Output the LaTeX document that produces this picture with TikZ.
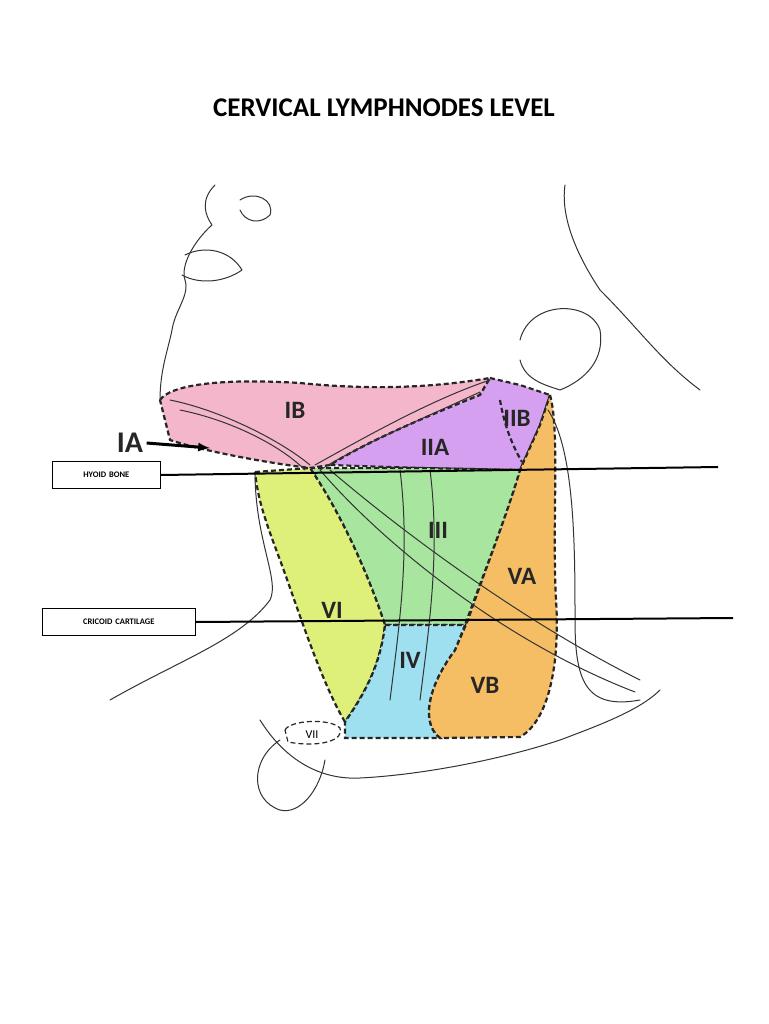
\documentclass[tikz,border=0pt]{standalone}
\usepackage{fontspec}
\setmainfont{Carlito}
\begin{document}
\begin{tikzpicture}[x=1pt,y=-1pt,
  region/.style={draw=black!85,line width=2.2pt,dash pattern=on 5pt off 3pt},
  sketch/.style={draw=black!80,line width=1pt,line cap=round,line join=round},
  lvl/.style={font=\bfseries\fontsize{25}{27}\selectfont,text=black!85},
  tag/.style={draw,line width=0.6pt,fill=white,font=\bfseries\fontsize{8.5}{9}\selectfont,inner sep=3pt,minimum height=27pt,anchor=west,align=center,text width=#1,inner xsep=6pt}]
\useasboundingbox (0,0) rectangle (768,1024);
\fill[white] (0,0) rectangle (768,1024);
\node (title) at (384,108) {\bfseries\fontsize{27}{30}\selectfont CERVICAL LYMPHNODES LEVEL};
% regions
\path[fill={rgb,255:red,243;green,182;blue,203}, region] (160,400) .. controls (170,385) and (220,378) .. (300,383) .. controls (370,390) and (430,388) .. (490,378) -- (480,395) .. controls (420,420) and (370,440) .. (330,465) -- (310,468) .. controls (260,462) and (200,450) .. (170,440) -- cycle;
\path[fill={rgb,255:red,214;green,160;blue,240}, region] (490,378) -- (520,385) -- (550,395) -- (540,425) -- (520,470) -- (420,468) -- (330,465) .. controls (370,440) and (430,415) .. (480,395) -- cycle;
\path[fill={rgb,255:red,246;green,190;blue,100}, region] (550,395) .. controls (560,430) and (552,520) .. (556,600) .. controls (560,660) and (550,720) .. (520,737) -- (440,738) .. controls (422,725) and (425,690) .. (455,650) -- (468,620) .. controls (485,570) and (505,520) .. (520,470) -- (540,425) -- cycle;
\path[fill={rgb,255:red,168;green,230;blue,160}, region] (310,468) -- (420,468) -- (520,470) .. controls (505,520) and (485,570) .. (465,625) -- (385,625) .. controls (370,580) and (345,520) .. (310,468);
\path[fill={rgb,255:red,222;green,240;blue,122}, region] (255,472) -- (310,468) .. controls (345,520) and (370,580) .. (385,625) .. controls (380,670) and (360,700) .. (345,722) .. controls (320,680) and (295,600) .. (280,560) .. controls (265,520) and (258,500) .. (255,472);
\path[fill={rgb,255:red,158;green,224;blue,240}, region] (385,625) -- (465,625) -- (455,650) .. controls (425,690) and (422,725) .. (440,738) -- (345,738) -- (345,722) .. controls (360,700) and (380,670) .. (385,625);
\draw[region] (500,400) .. controls (505,430) and (515,450) .. (522,462);
% sketch outlines
\draw[sketch] (215,185) .. controls (200,200) and (205,215) .. (212,225) .. controls (195,240) and (180,265) .. (185,280) .. controls (190,295) and (175,310) .. (172,330) .. controls (168,350) and (160,370) .. (160,400);
\draw[sketch] (240,200) .. controls (255,190) and (275,200) .. (270,215) .. controls (260,225) and (245,222) .. (240,210);
\draw[sketch] (185,255) .. controls (205,245) and (230,250) .. (242,270) .. controls (225,282) and (200,285) .. (182,275);
\draw[sketch] (565,185) .. controls (560,220) and (580,260) .. (600,290) .. controls (640,330) and (660,360) .. (700,390);
\draw[sketch] (520,340) .. controls (530,300) and (590,300) .. (600,330) .. controls (605,360) and (585,380) .. (560,390) .. controls (545,385) and (525,380) .. (520,360);
\draw[sketch] (548,410) .. controls (575,450) and (575,550) .. (575,620) .. controls (575,680) and (585,710) .. (640,700);
\draw[sketch] (490,380) .. controls (430,400) and (360,440) .. (315,465);
\draw[sketch] (480,392) .. controls (420,420) and (360,445) .. (320,470);
\draw[sketch] (170,400) .. controls (220,410) and (280,440) .. (310,465);
\draw[sketch] (180,410) .. controls (230,420) and (280,445) .. (305,470);
\draw[sketch] (320,470) .. controls (380,540) and (500,640) .. (635,692);
\draw[sketch] (330,470) .. controls (400,530) and (520,620) .. (640,680);
\draw[sketch] (255,472) .. controls (255,540) and (280,580) .. (270,600) .. controls (240,640) and (180,660) .. (110,700);
\draw[sketch] (260,720) .. controls (285,760) and (320,780) .. (360,778) .. controls (420,775) and (500,760) .. (560,740) .. controls (600,725) and (640,710) .. (660,690);
\draw[sketch] (280,740) .. controls (250,760) and (250,800) .. (280,810) .. controls (300,815) and (320,790) .. (325,760);
\draw[sketch] (400,470) .. controls (410,550) and (400,620) .. (390,700);
\draw[sketch] (430,470) .. controls (440,550) and (430,620) .. (420,700);
% VII
\draw[region,line width=1.2pt] (285,730) .. controls (290,720) and (330,718) .. (340,728) .. controls (345,740) and (320,748) .. (288,742) -- cycle;
\node[font=\fontsize{12}{13}\selectfont] (vii) at (312,735) {VII};
% lines and tags
\node[tag=96pt] (hyoid) at (52,475) {HYOID BONE};
\node[tag=141pt] (cricoid) at (42,622) {CRICOID CARTILAGE};
\coordinate (hend) at (718,467);
\coordinate (cend) at (733,618);
\draw[line width=2pt] (hyoid.east) -- (hend);
\draw[line width=2pt] (cricoid.east) -- (cend);
% labels
\node[lvl,font=\bfseries\fontsize{30}{32}\selectfont] (ia) at (130,443) {IA};
\coordinate (iatip) at (210,448);
\draw[line width=3pt,-latex] (ia.east) -- (iatip);
\node[lvl] (ib) at (295,410) {IB};
\node[lvl] (iia) at (435,447) {IIA};
\node[lvl] (iib) at (517,418) {IIB};
\node[lvl] (iii) at (438,530) {III};
\node[lvl] (va) at (522,576) {VA};
\node[lvl] (vi) at (332,610) {VI};
\node[lvl] (iv) at (410,660) {IV};
\node[lvl] (vb) at (485,685) {VB};
\end{tikzpicture}
\end{document}
